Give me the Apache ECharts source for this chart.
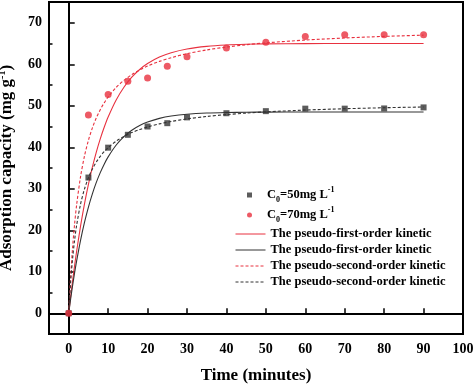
<!DOCTYPE html>
<html><head><meta charset="utf-8">
<script src="https://cdn.jsdelivr.net/npm/echarts@6/dist/echarts.min.js"></script>
<style>html,body{margin:0;padding:0;background:#fff}#c{width:474px;height:384px}</style>
</head><body><div id="c"></div>
<script>
const times = [0, 5, 10, 15, 20, 25, 30, 40, 50, 60, 70, 80, 90];
const q50 = [0, 32.7, 39.9, 43.0, 45.0, 45.8, 47.2, 48.2, 48.7, 49.3, 49.3, 49.35, 49.6];
const q70 = [0, 47.8, 52.7, 55.9, 56.7, 59.5, 61.8, 63.9, 65.3, 66.7, 67.1, 67.1, 67.1];
const fitT = [0, 0.5, 1, 1.5, 2, 3, 4, 5, 6, 7, 8, 9, 10, 12, 14, 16, 18, 20, 23, 26, 30, 35, 40, 45, 50, 60, 70, 80, 90];
const pfo70 = [0, 4.09, 7.92, 11.52, 14.88, 20.99, 26.36, 31.07, 35.20, 38.84, 42.02, 44.82, 47.29, 51.34, 54.47, 56.88, 58.74, 60.17, 61.73, 62.79, 63.69, 64.31, 64.64, 64.81, 64.90, 64.97, 64.99, 65.0, 65.0];
const pfo50 = [0, 3.50, 6.76, 9.77, 12.57, 17.58, 21.88, 25.59, 28.78, 31.53, 33.89, 35.93, 37.68, 40.48, 42.56, 44.10, 45.24, 46.08, 46.96, 47.52, 47.96, 48.25, 48.38, 48.44, 48.47, 48.49, 48.5, 48.5, 48.5];
const pso70 = [0, 9.06, 16.03, 21.56, 26.05, 32.91, 37.89, 41.68, 44.66, 47.07, 49.04, 50.70, 52.11, 54.38, 56.12, 57.50, 58.63, 59.56, 60.69, 61.59, 62.54, 63.45, 64.14, 64.70, 65.15, 65.83, 66.33, 66.71, 67.01];
const pso50 = [0, 7.65, 13.32, 17.68, 21.14, 26.29, 29.94, 32.66, 34.76, 36.44, 37.81, 38.94, 39.90, 41.44, 42.60, 43.53, 44.27, 44.88, 45.63, 46.21, 46.83, 47.42, 47.87, 48.23, 48.52, 48.96, 49.28, 49.52, 49.70];
const xTicks = [0, 10, 20, 30, 40, 50, 60, 70, 80, 90, 100];
const yTicks = [0, 10, 20, 30, 40, 50, 60, 70];
const yMinorTicks = [5, 15, 25, 35, 45, 55, 65];

const RED = '#e8313f', BLACK = '#333333';
const FONT = 'Liberation Serif';
const pairs = (xs, ys) => xs.map((x, i) => [x, ys[i]]);
const labels = {
  C50: 'C{sub|0}=50mg L{sup|-1}',
  C70: 'C{sub|0}=70mg L{sup|-1}',
  PFO70: 'The pseudo-first-order kinetic',
  PFO50: 'The pseudo-first-order kinetic',
  PSO70: 'The pseudo-second-order kinetic',
  PSO50: 'The pseudo-second-order kinetic'
};
const richStyles = {
  sub: {fontFamily: FONT, fontWeight: 'bold', fontSize: 8, lineHeight: 8, verticalAlign: 'bottom', color: '#000'},
  sup: {fontFamily: FONT, fontWeight: 'bold', fontSize: 8, lineHeight: 8, verticalAlign: 'top', color: '#000'}
};
const chart = echarts.init(document.getElementById('c'), null, {renderer: 'canvas'});
const lineSeries = (name, data, color, type) => ({
  name, type: 'line', data: pairs(fitT, data), symbol: 'circle', showSymbol: false, smooth: 0.3,
  lineStyle: {color, width: 1.1, type: type === 'dashed' ? [3, 2] : 'solid'}, itemStyle: {color},
  z: 2
});
chart.setOption({
  animation: false,
  grid: {left: 49, right: 11, top: 2, bottom: 50, outerBoundsMode: 'none', containLabel: false,
    show: true, borderColor: '#000', borderWidth: 2, backgroundColor: 'transparent'},
  xAxis: {
    type: 'value', min: -5, max: 100,
    name: 'Time (minutes)', nameLocation: 'middle', nameGap: 33,
    nameTextStyle: {fontFamily: FONT, fontWeight: 'bold', fontSize: 17, color: '#000'},
    axisLine: {show: true, lineStyle: {color: '#000', width: 2}},
    axisTick: {show: true, inside: true, length: 5, customValues: xTicks, lineStyle: {color: '#000', width: 1.5}},
    axisLabel: {customValues: xTicks, margin: 8, fontFamily: FONT, fontWeight: 'bold', fontSize: 14, color: '#000'},
    splitLine: {show: false}
  },
  yAxis: [{
    type: 'value', min: -5, max: 75,
    name: 'Adsorption capacity (mg g{sup|-1})', nameLocation: 'middle', nameGap: 23,
    nameTextStyle: {fontFamily: FONT, fontWeight: 'bold', fontSize: 17, color: '#000', lineHeight: 20,
      rich: {sup: {fontFamily: FONT, fontWeight: 'bold', fontSize: 10, lineHeight: 10, verticalAlign: 'top', color: '#000'}}},
    axisLine: {show: true, lineStyle: {color: '#000', width: 2}},
    axisTick: {show: true, inside: true, length: 6, customValues: yTicks, lineStyle: {color: '#000', width: 1.5}},
    axisLabel: {customValues: yTicks, margin: 7, fontFamily: FONT, fontWeight: 'bold', fontSize: 14, color: '#000'},
    splitLine: {show: false}
  }, {
    type: 'value', min: -5, max: 75, position: 'left',
    axisLine: {show: false},
    axisTick: {show: true, inside: true, length: 3.5, customValues: yMinorTicks, lineStyle: {color: '#000', width: 1.5}},
    axisLabel: {show: false}, splitLine: {show: false}
  }],
  legend: [{
    orient: 'vertical', left: 247, top: 186, padding: 0, itemWidth: 5, itemHeight: 5, itemGap: 2,
    data: ['C50', 'C70'], formatter: n => labels[n], selectedMode: false,
    textStyle: {fontFamily: FONT, fontWeight: 'bold', fontSize: 12.5, color: '#000', lineHeight: 18, padding: [0, 0, 0, 10], rich: richStyles}
  }, {
    orient: 'vertical', left: 235, top: 226, padding: 0, itemWidth: 30, itemHeight: 10, itemGap: 0,
    data: ['PFO70', 'PFO50', 'PSO70', 'PSO50'], formatter: n => labels[n], selectedMode: false,
    itemStyle: {opacity: 0, borderWidth: 0},
    lineStyle: {width: 1},
    textStyle: {fontFamily: FONT, fontWeight: 'bold', fontSize: 12.5, color: '#000', lineHeight: 16}
  }],
  series: [
    lineSeries('PFO70', pfo70, RED, 'solid'),
    lineSeries('PFO50', pfo50, BLACK, 'solid'),
    lineSeries('PSO70', pso70, RED, 'dashed'),
    lineSeries('PSO50', pso50, BLACK, 'dashed'),
    {name: 'C50', type: 'scatter', data: pairs(times, q50), symbol: 'rect', symbolSize: 6, itemStyle: {color: BLACK}, z: 3},
    {name: 'C70', type: 'scatter', data: pairs(times, q70), symbol: 'circle', symbolSize: 7, itemStyle: {color: RED}, z: 4}
  ]
});
</script></body></html>
